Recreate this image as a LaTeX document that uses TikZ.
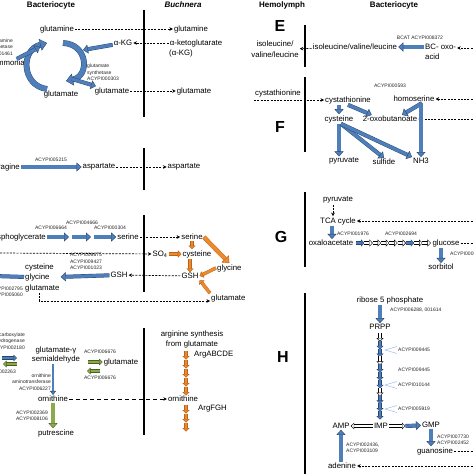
\documentclass[tikz,border=0pt]{standalone}
\usepackage{fontspec}
\setmainfont{Liberation Sans}
\usetikzlibrary{arrows.meta,positioning}

\definecolor{bluefl}{HTML}{4F7FBA}
\definecolor{bluedk}{HTML}{27466E}
\definecolor{orfl}{HTML}{EE8A2E}
\definecolor{ordk}{HTML}{B8621B}
\definecolor{grfl}{HTML}{8DAA4A}
\definecolor{grdk}{HTML}{4C5E22}
\definecolor{callout}{HTML}{8EB4E3}

\tikzset{
  lbl/.style={font=\fontsize{7.8}{9.5}\selectfont, inner sep=1pt},
  gene/.style={font=\fontsize{5}{6.4}\selectfont, inner sep=0pt, text=black!85},
  head/.style={font=\fontsize{8}{9}\selectfont\bfseries, anchor=base},
  panel/.style={font=\fontsize{16}{16}\selectfont\bfseries},
  wall/.style={line width=1.2pt},
  flux/.style={line width=.7pt, dash pattern=on 2pt off 1.3pt, -{Stealth[length=3.5pt,width=3.6pt]}},
  blk/.style n args={5}{draw=#2, line width=.4pt, double=#1, double distance=#3, -{Triangle[length=#4,width=#5,fill=#1]}},
  fatb/.style={blk={bluefl}{bluedk}{3.2pt}{5pt}{9pt}},
  arcb/.style={blk={bluefl}{bluedk}{5pt}{7pt}{12pt}},
  thinb/.style={blk={bluefl}{bluedk}{2pt}{4pt}{6pt}},
  smallb/.style={blk={bluefl}{bluedk}{2.4pt}{3.5pt}{6.5pt}},
  fato/.style={blk={orfl}{ordk}{3.5pt}{6pt}{10pt}},
  smallo/.style={blk={orfl}{ordk}{2.6pt}{3.5pt}{7pt}},
  fatg/.style={blk={grfl}{grdk}{3.2pt}{5pt}{9pt}},
  smallg/.style={blk={grfl}{grdk}{2.4pt}{3.5pt}{6.5pt}},
  wfat/.style={blk={white}{black}{2.4pt}{3.5pt}{6.5pt}},
  chain/.style 2 args={blk={#1}{#2}{2.6pt}{3.5pt}{7pt}},
  tag/.style={draw=callout, line width=.4pt}
}

\begin{document}
\begin{tikzpicture}[x=1pt, y=-1pt, every node/.style={lbl}]
\path[use as bounding box, fill=white] (0,0) rectangle (474,474);

% headings
\node[head] (hbac1) at (51,7) {Bacteriocyte};
\node[head, font=\fontsize{8}{9}\selectfont\bfseries\itshape] (hbuch) at (183,7) {Buchnera};
\node[head] (hhem) at (282,7) {Hemolymph};
\node[head] (hbac2) at (394,7) {Bacteriocyte};

% membranes
\draw[wall] (144,10) -- (144,117);
\draw[wall] (144,148) -- (144,190);
\draw[wall] (144,215) -- (144,292);
\draw[wall] (144,328) -- (144,435);
\draw[wall] (305,25) -- (305,67);
\draw[wall] (305,77) -- (305,152);
\draw[wall] (305,192) -- (305,267);
\draw[wall] (305,293) -- (305,476);

% glutamine / glutamate cycle
\node (gln) at (57,29) {glutamine};
\node (glnbu) at (191,29) {glutamine};
\node (akg) at (123,43) {α-KG};
\node (akgbu) at (196,43) {α-ketoglutarate};
\node (akgab) at (181,53) {(α-KG)};
\node (glu1) at (61,94) {glutamate};
\node (glu2) at (112,91) {glutamate};
\node (glubu) at (194,91) {glutamate};
\node (nh4) [anchor=east] at (26,63) {ammonia};
\node[gene, align=right, anchor=east] (gs) at (13,47) {glutamine\\synthetase\\ACYPI001461};
\node[gene, align=left, anchor=north west] (gogat) at (87,64) {glutamate\\synthetase\\ACYPI000303};

\draw[flux] (gln) -- (glnbu);
\draw[flux] (akgbu) -- (akg);
\draw[flux] (glu2) -- (glubu);
\draw[arcb] (47,89) .. controls (22,86) and (20,50) .. (47,43);
\draw[arcb] (63,43) .. controls (88,44) and (90,76) .. (66,81);
\draw[fatb] (akg) -- (83,50);
\draw[fatb] (nh4) -- (40,47);
\draw[fatb] (72,79) -- (glu2);

% asparagine
\node (asn) [anchor=east] at (21,167) {asparagine};
\node (asp) at (99,167) {aspartate};
\node (aspbu) at (184,167) {aspartate};
\node[gene] at (51,160) {ACYPI005215};
\draw[fatb] (asn) -- (asp);
\draw[flux] (asp) -- (aspbu);

% serine, cysteine, GSH
\node (pga) [anchor=east] at (47,237) {3-phosphoglycerate};
\node (ser) at (128,237) {serine};
\node[gene] at (51,228) {ACYPI006664};
\node[gene] at (82,223) {ACYPI004666};
\node[gene] at (110,228) {ACYPI000304};
\draw[fatb] (pga) -- (69,237);
\draw[fatb] (72,237) -- (91,237);
\draw[fatb] (94,237) -- (ser);
\node (serbu) at (192,237) {serine};
\draw[flux] (ser) -- (serbu);
\node (so4) at (160,254) {SO\textsubscript{4}};
\coordinate (so4in) at (0,253);
\draw[flux] (so4in) -- (so4);
\node (cysbu) at (197,254) {cysteine};
\node (gshbu) at (190,276) {GSH};
\node (glybu) [anchor=west] at (216,268) {glycine};
\node (glubu2) [anchor=west] at (210,298) {glutamate};
\draw[fato] (serbu.east) -- (glybu.north);
\draw[smallo] (so4) -- (cysbu);
\draw[smallo] (serbu.south) -- (serbu.south |- cysbu.north);
\draw[smallo] (gshbu |- cysbu.south) -- (gshbu.north);
\draw[smallo] (glybu.west) -- (gshbu.east);
\draw[smallo] (glubu2.north west) -- (gshbu.south east);
\node (gsh) at (119,275) {GSH};
\draw[flux] (gshbu) -- (gsh);
\node[gene, align=center] at (86,261.5) {ACYPI006675\\ACYPI009427\\ACYPI001023};
\node (cgg) [align=left, anchor=west, font=\fontsize{7.8}{10.5}\selectfont] at (24,277.5) {cysteine\\glycine\\glutamate};
\coordinate (cggout) at (-6,276);
\draw[fatb] (gsh) -- (cgg);
\draw[fatb] (cgg) -- (cggout);
\node[gene, align=right, anchor=east] at (23,291.5) {ACYPI002795\\ACYPI005060};
\coordinate (gdash) at (39,301);
\draw[flux] (cgg.south -| gdash) -- (gdash) -- (gdash -| glubu2.west);

% ornithine
\node (gsa) [align=center, font=\fontsize{7.8}{9}\selectfont] at (56,355) {glutamate-γ\\semialdehyde};
\node[gene, align=right, anchor=east] at (25,341) {pyrroline-5-carboxylate\\dehydrogenase\\ACYPI002180};
\draw[smallb] (2,358) -- (17,358);
\draw[smallg] (17,364) -- (3,364);
\node[gene, anchor=east] at (16,372) {ACYPI002263};
\node[gene, align=right, anchor=east] at (51,382) {ornithine\\aminotransferase\\ACYPI006227};
\node (orn) at (53,399) {ornithine};
\node (ornbu) at (183,399) {ornithine};
\draw[thinb] (orn |- gsa.south) -- (orn.north);
\draw[flux, dash pattern=on 4pt off 3pt] (orn) -- (ornbu);
\node (gluc) at (121,362) {glutamate};
\draw[smallg] (88,362) -- (gluc);
\draw[smallg] (100,371) -- (87,371);
\node[gene] at (100,352) {ACYPI006676};
\node[gene] at (100,378) {ACYPI006676};
\node (put) at (56,433) {putrescine};
\draw[fatg] (orn.south) -- (orn.south |- put.north);
\node[gene, align=right, anchor=east] at (48,416) {ACYPI002369\\ACYPI008106};
\node (argsyn) [align=center, font=\fontsize{7.8}{10}\selectfont] at (192,339) {arginine synthesis\\from glutamate};
\foreach \y in {355,364,373,382,391,409,418,427}
  \draw[smallo] (186,\y-4) -- (186,\y+4.5);
\node[anchor=west] at (193,355) {ArgABCDE};
\node[anchor=west] at (197,409) {ArgFGH};

% E
\node[panel] at (280,26) {E};
\node (ilvh) [align=center, font=\fontsize{7.8}{11}\selectfont] at (275,49.5) {isoleucine/\\valine/leucine};
\node (ilvc) at (355,47) {isoleucine/valine/leucine};
\node (bcoxo) [align=left, anchor=west] at (424,52) {BC- oxo-\\acid};
\node[gene] at (420,38) {BCAT ACYPI008372};
\coordinate (rim1) at (476,48);
\draw[flux] (ilvc) -- (ilvh);
\draw[fatb] (bcoxo.west |- ilvc) -- (ilvc);
\draw[flux] (rim1) -- (rim1 -| bcoxo.east);

% F
\node[panel] at (280,127) {F};
\node (cthh) at (278,93) {cystathionine};
\node (cthc) at (348,100) {cystathionine};
\node[gene] at (390,86) {ACYPI000593};
\node (hser) at (414,99) {homoserine};
\node (cys) at (339,119) {cysteine};
\node (oxob) at (390,119) {2-oxobutanoate};
\node (pyr) at (344,161) {pyruvate};
\node (sulf) at (384,162) {sulfide};
\node (nh3) at (421,161) {NH3};
\coordinate (rim2) at (476,99);
\coordinate (rim3) at (476,119);
\draw[flux] (cthh.west |- cthc) -- (cthc);
\draw[flux] (rim2) -- (hser);
\draw[flux] (rim3) -- (oxob);
\draw[fatb] (cthc.south -| cys) -- (cys.north);
\draw[fatb] (cthc.south) -- ([xshift=10pt]oxob.north west);
\draw[fatb] ([xshift=8pt]hser.south) -- ([xshift=12pt]oxob.north);
\draw[fatb] (hser.south -| nh3) -- (nh3.north);
\draw[fatb] (cys.south) -- (cys.south |- pyr.north);
\draw[fatb] ([xshift=2pt]cys.south) -- (sulf.north);
\draw[fatb] ([xshift=2pt]cys.south) -- (nh3.north west);

% G
\node[panel] at (281,237) {G};
\node (pyrg) at (338,200) {pyruvate};
\node (tca) at (338,221) {TCA cycle};
\node (oaa) at (331,243) {oxaloacetate};
\node (glc) at (446,243) {glucose};
\node (sorb) at (441,267) {sorbitol};
\node[gene] at (353,234) {ACYPI001976};
\node[gene] at (401,234) {ACYPI002694};
\node[gene, anchor=west] at (450,254) {ACYPI000519};
\coordinate (rim4) at (476,221);
\coordinate (rim5) at (476,243);
\draw[flux] ([xshift=-5pt]pyrg.south) -- ([xshift=-5pt]tca.north);
\draw[flux] (rim4) -- (tca);
\draw[fatb] ([xshift=-6pt]tca.south) -- ([xshift=1pt]oaa.north);
\foreach \i/\f/\d in {0/bluefl/bluedk, 1/white/black, 2/white/black, 3/white/black,
    4/white/black, 5/white/black, 6/bluefl/bluedk, 7/white/black, 8/white/black}
  \draw[chain={\f}{\d}] (356+\i*8.3,243) -- (364.5+\i*8.3,243);
\draw[flux, -] (glc) -- (rim5);
\draw[fatb] (glc.south -| sorb) -- (sorb.north);

% H
\node[panel] at (283,357) {H};
\node (r5p) at (390,300) {ribose 5 phosphate};
\node[gene, anchor=west] at (390,310) {ACYPI006288, 001614};
\node (prpp) at (380,327) {PRPP};
\draw[fatb] (r5p.south -| prpp) -- (prpp.north);
\foreach \i/\f/\d in {0/white/black, 1/bluefl/bluedk, 2/bluefl/bluedk, 3/white/black,
    4/bluefl/bluedk, 5/bluefl/bluedk, 6/bluefl/bluedk, 7/white/black,
    8/bluefl/bluedk, 9/bluefl/bluedk, 10/bluefl/bluedk}
  \draw[chain={\f}{\d}] (380,333+\i*7.8) -- (380,341.5+\i*7.8);
\foreach \y in {350,385,409}
  \draw[tag] (397,\y-3.5) -- (385,\y) -- (397,\y+3.5);
\node[gene, anchor=west] at (398,350) {ACYPI009445};
\node[gene, anchor=west] at (398,370) {ACYPI009445};
\node[gene, anchor=west] at (398,385) {ACYPI010144};
\node[gene, anchor=west] at (398,409) {ACYPI005919};
\node (amp) at (341,426) {AMP};
\node (imp) at (381,426) {IMP};
\node (gmp) at (431,425) {GMP};
\coordinate (impmid) at (405.5,426);
\draw[wfat] (imp) -- (amp);
\draw[wfat] (imp) -- (impmid);
\draw[fatb] (impmid) -- (gmp);
\node (ade) at (342,466) {adenine};
\node (guo) at (435,451) {guanosine};
\node[gene, align=left, anchor=west] at (346,448) {ACYPI002436,\\ACYPI003109};
\node[gene, align=left, anchor=west] at (437,440) {ACYPI007730\\ACYPI002452};
\coordinate (rim6) at (476,466);
\coordinate (rim7) at (476,451);
\draw[fatb] (amp |- ade.north) -- (amp.south);
\draw[flux] (rim6) -- (ade);
\draw[fatb] (gmp.south) -- (gmp.south |- guo.north);
\draw[flux, -] (guo) -- (rim7);
\end{tikzpicture}
\end{document}
